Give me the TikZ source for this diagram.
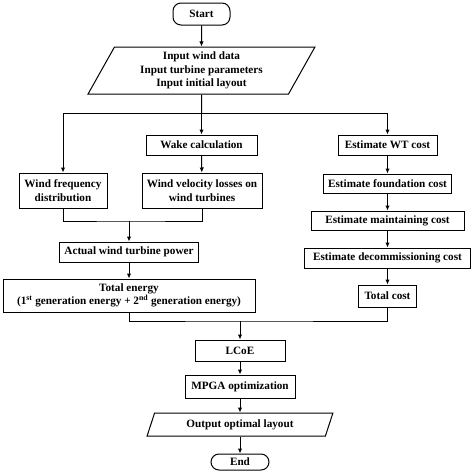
\documentclass[tikz,border=0pt]{standalone}
\usepackage{fontspec}
\setmainfont{Liberation Serif}
\usetikzlibrary{arrows.meta,positioning,shapes.geometric}

\begin{document}
\begin{tikzpicture}[x=1pt,y=-1pt,font=\fontsize{11.2}{13.5}\selectfont\bfseries,>=Latex,
  block/.style={draw,line width=1pt,align=center,inner sep=2pt},
  term/.style={draw,line width=1pt,rounded corners=8pt,inner sep=2pt},
  io/.style={draw,line width=1pt,trapezium,trapezium stretches=true,
    align=center,inner sep=2pt},
  arr/.style={-{Latex[length=5pt,width=4.5pt]},line width=1pt},
  link/.style={line width=1pt}]
  \useasboundingbox (0,0) rectangle (474,474);
  % main column
  \node[term,minimum width=57pt,minimum height=22pt] (start) at (201.5,14) {Start};
  \node[io,trapezium left angle=65,trapezium right angle=115,
    minimum width=227pt,minimum height=47pt] (in) at (201.5,70.5)
    {Input wind data\\Input turbine parameters\\Input initial layout};
  \coordinate (split) at (201.5,113);
  % energy side
  \node[block,minimum width=111pt,minimum height=20pt] (wake) at (201.5,145) {Wake calculation};
  \node[block,minimum width=88pt,minimum height=35pt] (freq) at (63,190.5) {Wind frequency\\distribution};
  \node[block,minimum width=120pt,minimum height=35pt] (loss) at (202,190.5) {Wind velocity losses on\\wind turbines};
  \coordinate (join1) at (129,221);
  \node[block,minimum width=139pt,minimum height=20pt] (power) at (129,252) {Actual wind turbine power};
  \node[block,minimum width=252pt,minimum height=33pt] (toten) at (129,295.5)
    {Total energy\\(1\textsuperscript{st} generation energy + 2\textsuperscript{nd} generation energy)};
  % cost side
  \node[block,minimum width=99pt,minimum height=20pt] (wtcost) at (387.5,145) {Estimate WT cost};
  \node[block,minimum width=128pt,minimum height=19pt] (found) at (387.5,183.5) {Estimate foundation cost};
  \node[block,minimum width=153pt,minimum height=19pt] (maint) at (387.5,220.5) {Estimate maintaining cost};
  \node[block,minimum width=166pt,minimum height=20pt] (decom) at (387.5,258) {Estimate decommissioning cost};
  \node[block,minimum width=58pt,minimum height=22pt] (totcost) at (387.5,296) {Total cost};
  % lower column
  \coordinate (join2) at (240,321);
  \node[block,minimum width=90pt,minimum height=21pt] (lcoe) at (240,350.5) {LCoE};
  \node[block,minimum width=110pt,minimum height=23pt] (mpga) at (240,386.5) {MPGA optimization};
  \node[io,trapezium left angle=71,trapezium right angle=109,
    minimum width=186pt,minimum height=23pt] (out) at (240,424.5) {Output optimal layout};
  \node[term,minimum width=58pt,minimum height=16pt] (end) at (240,462) {End};

  \draw[arr] (start) -- (in);
  \draw[link] (in) -- (split);
  \draw[arr] (split) -- (wake);
  \draw[arr] (split) -| (freq);
  \draw[arr] (split) -| (wtcost);
  \draw[arr] (wake) -- (loss);
  \draw[link] (freq) |- (join1) -| (loss);
  \draw[arr] (join1) -- (power);
  \draw[arr] (power) -- (toten);
  \draw[arr] (wtcost) -- (found);
  \draw[arr] (found) -- (maint);
  \draw[arr] (maint) -- (decom);
  \draw[arr] (decom) -- (totcost);
  \draw[link] (toten) |- (join2) -| (totcost);
  \draw[arr] (join2) -- (lcoe);
  \draw[arr] (lcoe) -- (mpga);
  \draw[arr] (mpga) -- (out);
  \draw[arr] (out) -- (end);
\end{tikzpicture}
\end{document}
